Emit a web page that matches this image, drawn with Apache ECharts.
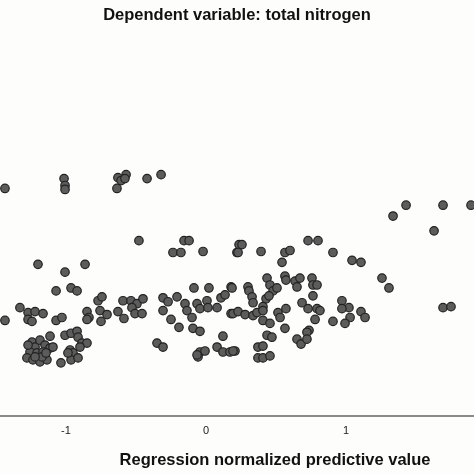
<!DOCTYPE html>
<html><head><meta charset="utf-8">
<script src="https://cdn.jsdelivr.net/npm/echarts@6/dist/echarts.min.js"></script>
<style>html,body{margin:0;padding:0;background:#fdfdfb}#c{width:474px;height:474px}</style>
</head><body><div id="c"></div>
<script>
// x: regression normalized predicted value; y: residual (arbitrary vertical units)
const xTicks = [-1, 0, 1];
const rawX = [5,64,65,65,118,121,126,125,117,147,161,139,184,189,173,181,203,239,237,38,85,65,56,71,77,194,209,231,20,5,28,35,43,28,32,56,62,87,89,87,100,107,101,98,102,118,124,123,131,137,143,132,135,142,163,168,177,163,171,179,185,187,192,193,200,197,207,200,208,217,221,225,231,223,32,35,40,45,50,30,37,43,50,53,27,33,40,47,28,42,35,46,61,65,71,77,78,82,87,80,70,73,71,78,68,157,163,200,205,198,197,217,223,230,235,393,406,443,471,434,242,238,261,285,290,282,308,318,333,352,361,382,389,443,451,232,248,249,252,253,267,270,273,277,266,269,263,285,286,295,300,297,312,313,317,313,302,233,238,245,253,257,263,263,270,278,280,286,285,308,317,320,315,342,349,342,361,365,350,345,333,309,307,297,301,307,267,272,258,263,258,263,270,233];
const rawY = [186,176,183,187,175,178,172,176,186,176,172,239,239,239,251,251,250,243,251,263,263,271,290,287,290,287,287,286,307,320,312,311,313,319,321,320,317,311,317,319,310,314,321,300,296,311,318,300,300,303,298,307,313,313,297,301,296,310,319,327,303,310,317,328,331,303,300,308,307,307,297,294,313,336,342,347,340,345,336,352,353,352,348,347,358,360,362,360,345,357,357,353,363,335,333,331,337,343,343,347,350,353,360,358,353,343,347,352,351,357,355,347,352,352,351,214,203,203,203,229,243,251,250,251,249,261,239,239,251,259,261,277,287,307,306,287,286,290,296,302,277,284,290,287,298,295,306,275,279,280,277,286,277,284,284,295,302,313,311,314,315,312,310,320,323,312,317,308,328,308,308,310,319,300,307,308,311,317,317,323,321,330,332,339,344,339,335,337,347,346,358,358,356,351];
const xValues = rawX.map(p => +(((p - 206) / 140)).toFixed(3));
const yValues = rawY.map(p => +(((417 - p) / 40) - 3).toFixed(3));
const data = xValues.map((x, i) => [x, yValues[i]]);
const chart = echarts.init(document.getElementById('c'));
chart.setOption({
  backgroundColor: '#fdfdfb',
  animation: false,
  title: { text: 'Dependent variable: total nitrogen', left: 232, textAlign: 'center', top: 2,
    textStyle: { fontFamily: 'Liberation Sans', fontSize: 16.5, fontWeight: 'bold', color: '#111' } },
  grid: { left: 0, right: 0, top: 22, bottom: 52 },
  xAxis: { type: 'value', min: -206/140, max: 268/140,
    name: 'Regression normalized predictive value', nameLocation: 'middle', nameGap: 36,
    nameTextStyle: { fontFamily: 'Liberation Sans', fontSize: 16.5, fontWeight: 'bold', color: '#111', padding: [0,0,0,76] },
    axisLine: { onZero: false, lineStyle: { color: '#8a8a8a', width: 2 } },
    axisTick: { show: false }, splitLine: { show: false },
    axisLabel: { customValues: xTicks, margin: 9, fontFamily: 'Liberation Sans', fontSize: 11, color: '#222' } },
  yAxis: { type: 'value', min: -3, max: 7, show: false },
  series: [{ type: 'scatter', data, symbolSize: 8.5,
    itemStyle: { color: '#5c5c5c', borderColor: '#222', borderWidth: 1.2, opacity: 1 } }]
});
</script></body></html>
